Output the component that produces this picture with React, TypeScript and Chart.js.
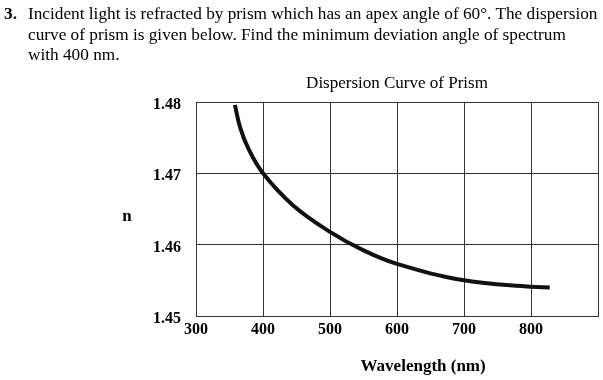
import React, { useEffect, useRef } from "react";
import { Chart, registerables } from "chart.js";

Chart.register(...registerables);

const wavelengths = [358, 366, 378, 400, 445, 500, 550, 600, 700, 800, 828];
const indexN = [1.4796, 1.4764, 1.4735, 1.47, 1.4655, 1.4618, 1.4592, 1.4573, 1.455, 1.4541, 1.454];
const xTicks = [300, 400, 500, 600, 700, 800];
const yTicks = [1.45, 1.46, 1.47, 1.48];

const chartTitle = "Dispersion Curve of Prism";
const xTitle = "Wavelength (nm)";
const yTitle = "n";

const questionNumber = "3.";
const questionLines = [
  "Incident light is refracted by prism which has an apex angle of 60\u00b0. The dispersion",
  "curve of prism is given below. Find the minimum deviation angle of spectrum",
  "with 400 nm.",
];

const SERIF = '"Liberation Serif", "Times New Roman", serif';

const textPlugin = {
  id: "extraText",
  afterDraw(chart: any) {
    const ctx = chart.ctx;
    const area = chart.chartArea;
    const xs = chart.scales.x;
    ctx.save();
    ctx.fillStyle = "#000";
    ctx.textAlign = "center";
    ctx.textBaseline = "middle";
    ctx.font = `17px ${SERIF}`;
    ctx.fillText(chartTitle, (area.left + area.right) / 2, area.top - 18);
    ctx.font = `bold 17px ${SERIF}`;
    ctx.fillText(yTitle, area.left - 69, (area.top + area.bottom) / 2 + 8);
    ctx.fillText(xTitle, xs.getPixelForValue(639), area.bottom + 51);
    ctx.restore();
  },
};

export default function App() {
  const ref = useRef<HTMLCanvasElement | null>(null);
  useEffect(() => {
    if (!ref.current) return;
    const chart = new Chart(ref.current, {
      type: "line",
      data: {
        datasets: [
          {
            data: wavelengths.map((w, i) => ({ x: w, y: indexN[i] })),
            borderColor: "#111",
            borderWidth: 4,
            pointRadius: 0,
            tension: 0.4,
            borderCapStyle: "butt",
            borderJoinStyle: "round",
            fill: false,
          },
        ],
      },
      options: {
        animation: false,
        responsive: false,
        layout: { padding: { top: 102, right: 5, left: 0, bottom: 0 } },
        plugins: { legend: { display: false }, tooltip: { enabled: false }, title: { display: false } },
        scales: {
          x: {
            type: "linear",
            min: 300,
            max: 900,
            afterFit: (s: any) => {
              s.height = 64;
            },
            afterBuildTicks: (s: any) => {
              s.ticks = [...xTicks, 900].map((v) => ({ value: v }));
            },
            ticks: {
              callback: (v: any) => (xTicks.includes(Number(v)) ? String(v) : ""),
              font: { family: SERIF, size: 16, weight: "bold" },
              color: "#000",
              padding: 4,
              maxRotation: 0,
            },
            grid: { color: "#333", lineWidth: 1, drawTicks: false },
            border: { color: "#333", width: 1 },
          },
          y: {
            type: "linear",
            min: 1.45,
            max: 1.48,
            afterFit: (s: any) => {
              s.width = 196;
            },
            afterBuildTicks: (s: any) => {
              s.ticks = yTicks.map((v) => ({ value: v }));
            },
            ticks: {
              callback: (v: any) => Number(v).toFixed(2),
              font: { family: SERIF, size: 16, weight: "bold" },
              color: "#000",
              padding: 15,
              labelOffset: 3,
            },
            grid: { color: "#333", lineWidth: 1, drawTicks: false },
            border: { color: "#333", width: 1 },
          },
        },
      },
      plugins: [textPlugin],
    } as any);
    return () => chart.destroy();
  }, []);

  return (
    <div style={{ position: "fixed", left: 0, top: 0, width: 603, height: 380, background: "#fff", fontFamily: SERIF }}>
      <canvas ref={ref} width={603} height={380} style={{ position: "absolute", left: 0, top: 0 }} />
      <div style={{ position: "absolute", left: 4, top: 4, fontSize: 17.25, lineHeight: "20px", fontWeight: "bold", whiteSpace: "nowrap" }}>
        {questionNumber}
      </div>
      {questionLines.map((line, i) => (
        <div
          key={i}
          style={{ position: "absolute", left: 28, top: 4 + i * 20.5, fontSize: 17.25, lineHeight: "20px", whiteSpace: "nowrap" }}
        >
          {line}
        </div>
      ))}
    </div>
  );
}
